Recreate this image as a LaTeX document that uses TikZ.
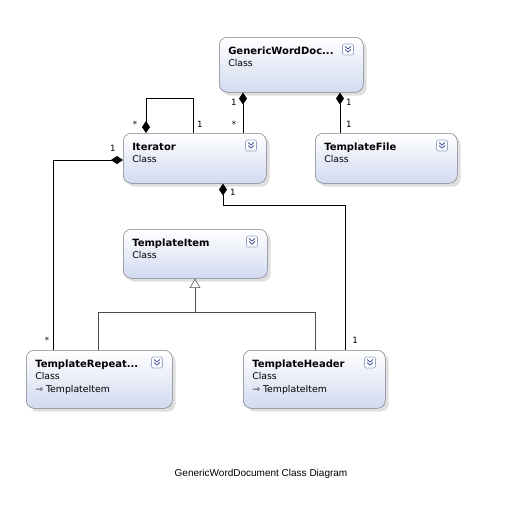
\documentclass[tikz,border=0pt]{standalone}
\usepackage{fontspec}
\setmainfont{DejaVu Sans}
\newfontfamily\capfont{Liberation Sans}
\usetikzlibrary{arrows.meta,positioning,shadows,calc}
\definecolor{clsfill}{RGB}{210,218,240}
\definecolor{clsline}{RGB}{125,125,135}
\definecolor{iconline}{RGB}{150,165,200}
\definecolor{iconmark}{RGB}{60,80,150}
\tikzset{
  cls/.style={draw=clsline,rounded corners=6pt,anchor=north west,inner sep=0pt,top color=white,bottom color=clsfill,
    drop shadow={shadow xshift=2.5pt,shadow yshift=-2.5pt,opacity=0.25}},
  ttl/.style={anchor=base west,font=\fontsize{7.5}{9}\selectfont\bfseries,inner sep=0pt},
  sub/.style={anchor=base west,font=\fontsize{7}{8}\selectfont,inner sep=0pt},
  mult/.style={font=\fontsize{6.5}{8}\selectfont,inner sep=0pt},
  icon/.style={draw=iconline,fill=white,rounded corners=1.5pt,line width=0.5pt},
  chev/.style={draw=iconmark,line width=0.6pt},
  comp/.style={{Diamond[length=9pt,width=6pt]}-,line width=0.6pt},
  gen/.style={-{Triangle[open,length=7pt,width=8pt]},line width=0.4pt,draw=black!70},
}
\begin{document}
\begin{tikzpicture}[x=0.75pt,y=-0.75pt]
\useasboundingbox (0,0) rectangle (527,512);
% class boxes
\foreach \n/\x/\y/\w/\h/\t in {gwd/219/37/144/55/{GenericWordDoc...},iter/123/133/143/50/{Iterator},tfile/315/133/142/50/{TemplateFile},titem/123/229/144/49/{TemplateItem},trep/26/350/146/58/{TemplateRepeat...},thead/243/350/142/58/{TemplateHeader}}
{
  \node[cls,minimum width=\w*0.75pt,minimum height=\h*0.75pt] (\n) at (\x,\y) {};
  \node[ttl] (\n-ttl) at ({\x+9},{\y+17}) {\t};
  \node[sub] (\n-sub) at ({\x+9},{\y+29}) {Class};
  \draw[icon] ($(\n.north east)+(-21,7)$) rectangle ++(11,11);
  \draw[chev] ($(\n.north east)+(-18.5,9.5)$) -- ++(3,2.5) -- ++(3,-2.5);
  \draw[chev] ($(\n.north east)+(-18.5,12.5)$) -- ++(3,2.5) -- ++(3,-2.5);
}
\node[sub] (trep-base) at (35,392) {⇾ TemplateItem};
\node[sub] (thead-base) at (252,392) {⇾ TemplateItem};

% composition
\draw[comp] ($(gwd.south west)+(24,0)$) coordinate (ga) -- (ga |- iter.north);
\draw[comp] ($(gwd.south west)+(121,0)$) coordinate (gb) -- (gb |- tfile.north);
\draw[comp] ($(iter.north west)+(23,0)$) -- ++(0,-35) -| ($(iter.north west)+(70,0)$);
\draw[comp] ($(iter.north west)+(0,27)$) -| ($(trep.north west)+(27,0)$);
\draw[comp] ($(iter.south west)+(100,0)$) -- ++(0,22) -| ($(thead.north west)+(102,0)$);

% generalization
\coordinate (j) at ($(titem.south west)+(72,34)$);
\draw[gen,-] ($(trep.north west)+(72,0)$) |- (j) -| ($(thead.north west)+(72,0)$);
\draw[gen] (j) -- (j |- titem.south);

% multiplicities
\node[mult] (m1) at (234,102) {1};
\node[mult] (m2) at (234,124) {*};
\node[mult] (m3) at (349,102) {1};
\node[mult] (m4) at (349,124) {1};
\node[mult] (m5) at (135,124) {*};
\node[mult] (m6) at (200,124) {1};
\node[mult] (m7) at (113,148) {1};
\node[mult] (m8) at (233,192) {1};
\node[mult] (m9) at (47,340) {*};
\node[mult] (m10) at (355,340) {1};

\node[font=\capfont\fontsize{7.5}{9}\selectfont] (cap) at (261,474) {GenericWordDocument Class Diagram};
\end{tikzpicture}
\end{document}
